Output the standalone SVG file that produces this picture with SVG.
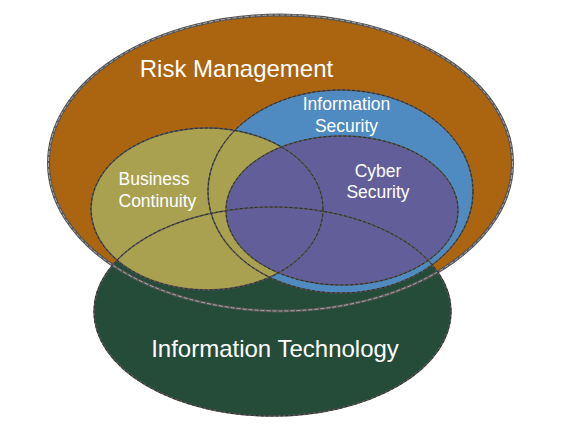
<svg xmlns="http://www.w3.org/2000/svg" xmlns:xlink="http://www.w3.org/1999/xlink" width="568" height="432" viewBox="0 0 568 432">
  <style>
    .lbl { font-family: "Liberation Sans", Arial, sans-serif; fill: #ffffff; }
    .big { font-size: 24px; }
    .small { font-size: 17.5px; }
    .edge { fill: none; stroke: #5a5a5a; stroke-width: 1.5; }
    .edge2 { fill: none; stroke: #2a2a2a; stroke-width: 1; stroke-dasharray: 3 2; }
    .outer { fill: none; stroke: #555555; stroke-width: 3; }
    .outerCore { fill: none; stroke: #b4b4b4; stroke-width: 0.9; stroke-dasharray: 4 2; }
  </style>
  <defs>
    <ellipse id="eRisk" cx="280.5" cy="163" rx="232" ry="148"/>
    <ellipse id="eIT" cx="272.5" cy="311.5" rx="178.5" ry="104.5"/>
    <ellipse id="eInfoSec" cx="340.5" cy="191.5" rx="132.5" ry="101.5"/>
    <ellipse id="eBC" cx="207" cy="209" rx="116" ry="81"/>
    <ellipse id="eCyber" cx="342" cy="210.5" rx="116" ry="74.5"/>
  </defs>

  <g id="risk-management">
    <use xlink:href="#eRisk" fill="#AB6410"/>
    <text class="lbl big" x="236.5" y="77" text-anchor="middle">Risk Management</text>
  </g>

  <g id="information-technology">
    <use xlink:href="#eIT" fill="#244C39"/>
    <text class="lbl big" x="275" y="357" text-anchor="middle">Information Technology</text>
  </g>

  <g id="information-security">
    <use xlink:href="#eInfoSec" fill="#4F8AC0"/>
    <text class="lbl small" x="346.5" y="110" text-anchor="middle">Information</text>
    <text class="lbl small" x="346.5" y="131.5" text-anchor="middle">Security</text>
  </g>

  <g id="business-continuity">
    <use xlink:href="#eBC" fill="#A9A050"/>
    <text class="lbl small" x="118.5" y="185">Business</text>
    <text class="lbl small" x="118.5" y="206.5">Continuity</text>
  </g>

  <g id="cyber-security">
    <use xlink:href="#eCyber" fill="#625E99"/>
    <text class="lbl small" x="378" y="176.5" text-anchor="middle">Cyber</text>
    <text class="lbl small" x="378" y="198" text-anchor="middle">Security</text>
  </g>

  <g id="outlines">
    <use xlink:href="#eRisk" class="outer"/>
    <use xlink:href="#eRisk" class="outerCore"/>
    <use xlink:href="#eIT" class="edge"/>
    <use xlink:href="#eIT" class="edge2"/>
    <use xlink:href="#eInfoSec" class="edge"/>
    <use xlink:href="#eInfoSec" class="edge2"/>
    <use xlink:href="#eBC" class="edge"/>
    <use xlink:href="#eBC" class="edge2"/>
    <use xlink:href="#eCyber" class="edge"/>
    <use xlink:href="#eCyber" class="edge2"/>
  </g>
</svg>
